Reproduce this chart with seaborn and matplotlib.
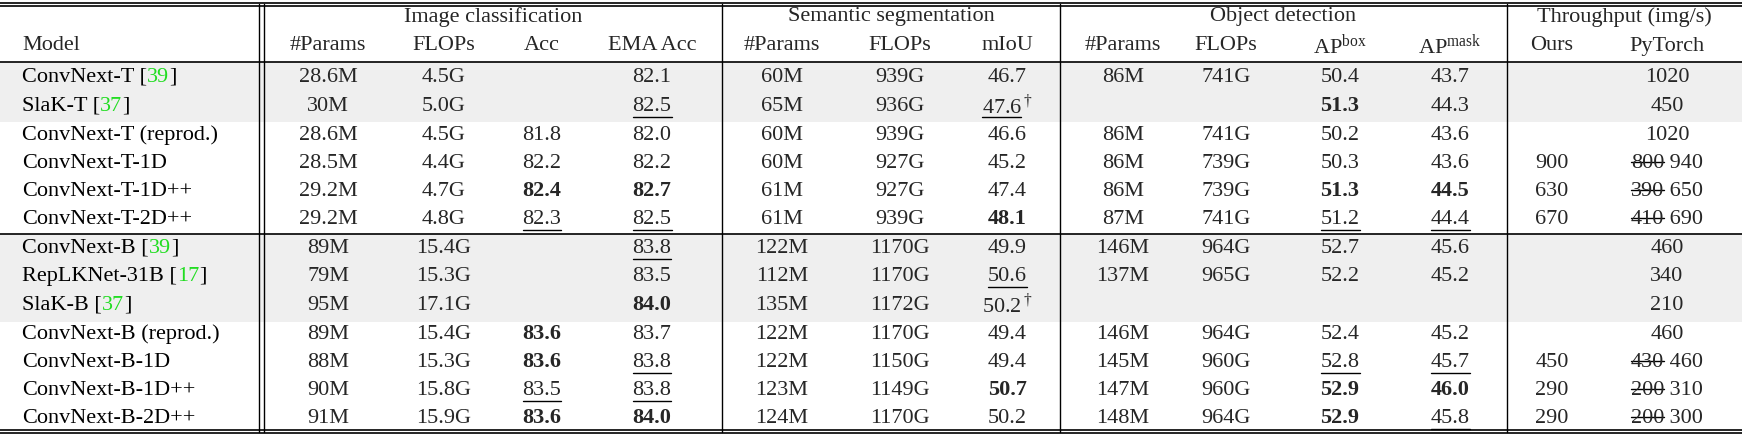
import matplotlib
matplotlib.use("Agg")
import matplotlib.pyplot as plt
import seaborn as sns

sns.set_theme(style="white")
plt.rcParams["font.family"] = ["Liberation Serif", "DejaVu Serif"]
plt.rcParams["mathtext.fontset"] = "custom"
plt.rcParams["mathtext.rm"] = "Liberation Serif"
plt.rcParams["mathtext.it"] = "Liberation Serif:italic"

# markers: **x** bold, __x__ underline, ~~a~~ b strikethrough a
models = ["ConvNext-T [39]", "SlaK-T [37]", "ConvNext-T (reprod.)", "ConvNext-T-1D",
          "ConvNext-T-1D++", "ConvNext-T-2D++", "ConvNext-B [39]", "RepLKNet-31B [17]",
          "SlaK-B [37]", "ConvNext-B (reprod.)", "ConvNext-B-1D", "ConvNext-B-1D++",
          "ConvNext-B-2D++"]
ic_params = ["28.6M", "30M", "28.6M", "28.5M", "29.2M", "29.2M", "89M", "79M", "95M", "89M", "88M", "90M", "91M"]
ic_flops = ["4.5G", "5.0G", "4.5G", "4.4G", "4.7G", "4.8G", "15.4G", "15.3G", "17.1G", "15.4G", "15.3G", "15.8G", "15.9G"]
ic_acc = ["", "", "81.8", "82.2", "**82.4**", "__82.3__", "", "", "", "**83.6**", "**83.6**", "__83.5__", "**83.6**"]
ic_ema = ["82.1", "__82.5__", "82.0", "82.2", "**82.7**", "__82.5__", "__83.8__", "83.5", "**84.0**", "83.7", "__83.8__", "__83.8__", "**84.0**"]
ss_params = ["60M", "65M", "60M", "60M", "61M", "61M", "122M", "112M", "135M", "122M", "122M", "123M", "124M"]
ss_flops = ["939G", "936G", "939G", "927G", "927G", "939G", "1170G", "1170G", "1172G", "1170G", "1150G", "1149G", "1170G"]
ss_miou = ["46.7", "__47.6__$^\\dagger$", "46.6", "45.2", "47.4", "**48.1**", "49.9", "__50.6__", "50.2$^\\dagger$", "49.4", "49.4", "**50.7**", "50.2"]
od_params = ["86M", "", "86M", "86M", "86M", "87M", "146M", "137M", "", "146M", "145M", "147M", "148M"]
od_flops = ["741G", "", "741G", "739G", "739G", "741G", "964G", "965G", "", "964G", "960G", "960G", "964G"]
ap_box = ["50.4", "**51.3**", "50.2", "50.3", "**51.3**", "__51.2__", "52.7", "52.2", "", "52.4", "__52.8__", "**52.9**", "**52.9**"]
ap_mask = ["43.7", "44.3", "43.6", "43.6", "**44.5**", "__44.4__", "45.6", "45.2", "", "45.2", "__45.7__", "**46.0**", "__45.8__"]
tp_ours = ["", "", "", "900", "630", "670", "", "", "", "", "450", "290", "290"]
tp_torch = ["1020", "450", "1020", "~~800~~ 940", "~~390~~ 650", "~~410~~ 690", "460", "340", "210", "460", "~~430~~ 460", "~~200~~ 310", "~~200~~ 300"]

columns = [ic_params, ic_flops, ic_acc, ic_ema, ss_params, ss_flops, ss_miou,
           od_params, od_flops, ap_box, ap_mask, tp_ours, tp_torch]
col_names = ["#Params", "FLOPs", "Acc", "EMA Acc", "#Params", "FLOPs", "mIoU",
             "#Params", "FLOPs", "AP$^{\\mathrm{box}}$", "AP$^{\\mathrm{mask}}$", "Ours", "PyTorch"]
col_x = [328, 444, 542, 652, 782, 900, 1007, 1123, 1226, 1340, 1450, 1552, 1667]
groups = [("Image classification", 264, 722), ("Semantic segmentation", 722, 1060),
          ("Object detection", 1060, 1507), ("Throughput (img/s)", 1507, 1742)]

W, H = 1742, 436
fig = plt.figure(figsize=(W / 100, H / 100), dpi=100)
ax = fig.add_axes([0, 0, 1, 1])
ax.set_xlim(0, W)
ax.set_ylim(H, 0)
ax.axis("off")
fs = 16
row_y = [77, 106, 135, 163, 191, 219, 248, 276, 305, 334, 362, 390, 418]
bounds = [(62, 122), (234, 322)]
for y0, y1 in bounds:
    ax.axhspan(y0, y1, color="#efefef", zorder=0, lw=0)

fig.canvas.draw()
rend = fig.canvas.get_renderer()
inv = ax.transData.inverted()


def width_of(t, weight="normal"):
    tt = ax.text(0, 0, t, fontsize=fs, weight=weight)
    bb = tt.get_window_extent(rend)
    tt.remove()
    return bb.width


def extent(tt):
    bb = tt.get_window_extent(rend)
    (x0, y0), (x1, y1) = inv.transform([[bb.x0, bb.y0], [bb.x1, bb.y1]])
    return x0, x1, y0, y1


def cell(x, y, s):
    if not s:
        return
    if s.startswith("~~"):
        old, new = s[2:].split("~~")
        full = ax.text(x, y, old + new, fontsize=fs, ha="center", va="center")
        x0, x1, _, _ = extent(full)
        t = ax.text(x0, y, old, fontsize=fs, ha="left", va="center")
        a, b, _, _ = extent(t)
        full.remove()
        ax.text(b, y, new, fontsize=fs, ha="left", va="center")
        ax.plot([a, b], [y - 1, y - 1], color="black", lw=1)
        return
    weight = "normal"
    under = False
    suffix = ""
    if s.startswith("**"):
        weight = "bold"
        s = s.strip("*")
    if s.startswith("__"):
        under = True
        s, suffix = s[2:].split("__")
    t = ax.text(x, y, s + suffix, fontsize=fs, ha="center", va="center", weight=weight)
    if under:
        x0, x1, _, _ = extent(t)
        if suffix:
            x1 = x0 + width_of(s)
        ax.plot([x0, x1], [y + 11, y + 11], color="black", lw=1)


# header
for name, a, b in groups:
    ax.text((a + b) / 2, 17, name, fontsize=fs, ha="center", va="center")
ax.text(22, 46, "Model", fontsize=fs, ha="left", va="center")
for x, n in zip(col_x, col_names):
    ax.text(x, 46, n, fontsize=fs, ha="center", va="center")

# model names with green citations
for y, m in zip(row_y, models):
    x = 22
    if "[" in m:
        pre, rest = m.split("[")
        ref = rest.rstrip("]")
        parts = [(pre + "[", "black"), (ref, "#22dd22"), ("]", "black")]
    else:
        parts = [(m, "black")]
    for txt, c in parts:
        t = ax.text(x, y, txt, fontsize=fs, ha="left", va="center", color=c)
        x = extent(t)[1]

for x, col in zip(col_x, columns):
    for y, s in zip(row_y, col):
        cell(x, y, s)

# rules
for y in [3, 6, 62, 234, 430, 433]:
    ax.plot([0, W], [y, y], color="black", lw=1.2)
for x in [259, 264, 722, 1060, 1507]:
    ax.plot([x, x], [4, 432], color="black", lw=1)

fig.savefig("out.png", dpi=100)
